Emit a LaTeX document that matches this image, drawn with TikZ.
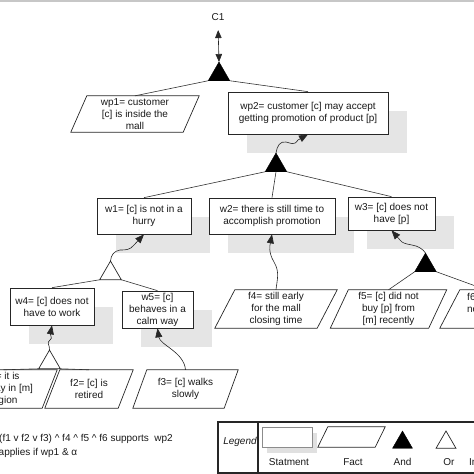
\documentclass[tikz,border=0pt]{standalone}
\usepackage{fontspec}
\setmainfont{Liberation Sans}
\usetikzlibrary{shapes.geometric,arrows.meta,shadows}
\newcommand{\paral}[2]{\draw[factline] ([xshift=#2]#1.north west) -- ([xshift=#2]#1.north east) -- ([xshift=-#2]#1.south east) -- ([xshift=-#2]#1.south west) -- cycle;}
\begin{document}
\begin{tikzpicture}[x=1pt,y=-1pt,
  every node/.style={font=\fontsize{10}{12}\selectfont, text=black!90},
  stmt/.style={draw=black!85, line width=0.7pt, fill=white, inner sep=0pt, align=center,
    general shadow={fill=black!10, shadow xshift=19pt, shadow yshift=-19pt}},
  fact/.style={inner sep=0pt, align=center},
  factline/.style={draw=black!85, line width=0.7pt},
  andg/.style={regular polygon, regular polygon sides=3, minimum size=25pt, inner sep=0pt, outer sep=0pt, fill=black, draw=black, line width=0.4pt},
  org/.style={regular polygon, regular polygon sides=3, minimum size=25pt, inner sep=0pt, outer sep=0pt, fill=white, draw=black!85, line width=0.7pt},
  link/.style={draw=black!80, line width=0.6pt},
  infl/.style={draw=black!85, line width=0.6pt, -{Triangle[length=9pt,width=7pt]}},
  dbl/.style={draw=black!85, line width=0.6pt, {Triangle[length=8pt,width=6.5pt]}-{Triangle[length=8pt,width=6.5pt]}},
  legframe/.style={draw=black!85, line width=1.2pt},
  lstmt/.style={draw=black!45, line width=0.6pt, fill=white, inner sep=0pt,
    general shadow={fill=black!12, shadow xshift=5pt, shadow yshift=-6pt}}
]
\useasboundingbox (0,0) rectangle (474,474);
\clip (0,0) rectangle (474,474);
\fill[black!22] (0,0) rectangle (474,1.8);

% top level
\node (c1) at (218,17) {C1};
\node[fact, minimum width=112pt, minimum height=36pt] (wp1) at (135,114) {wp1= customer\\{}[c] is inside the\\mall};
\paral{wp1}{8pt}
\node[stmt, minimum width=160pt, minimum height=42pt] (wp2) at (308,113) {wp2= customer [c] may accept\\getting promotion of product [p]};
\node[andg] (t0) at (219,74.5) {};

% second level
\node[stmt, minimum width=94pt, minimum height=36pt] (w1) at (144,216) {w1= [c] is not in a\\hurry};
\node[stmt, minimum width=126pt, minimum height=36pt] (w2) at (272,216) {w2= there is still time to\\accomplish promotion};
\node[stmt, minimum width=87pt, minimum height=33pt] (w3) at (391.5,213.5) {w3= [c] does not\\have [p]};
\node[andg] (t1) at (276,165.5) {};

% third level
\node[stmt, minimum width=84pt, minimum height=37pt] (w4) at (52,306.5) {w4= [c] does not\\have to work};
\node[stmt, minimum width=71pt, minimum height=37pt] (w5) at (157.5,309.5) {w5= [c]\\behaves in a\\calm way};
\node[org] (t2) at (110.5,273.5) {};

\node[fact, minimum width=102pt, minimum height=38pt] (f4) at (276,309) {f4= still early\\for the mall\\closing time};
\paral{f4}{10pt}
\node[fact, minimum width=98pt, minimum height=38pt] (f5) at (388.5,309) {f5= [c] did not\\buy [p] from\\{}[m] recently};
\paral{f5}{9pt}
\node[fact, minimum width=72pt, minimum height=38pt] (f6) at (486,309) {f6= [c] is\\not busy\\\mbox{}};
\paral{f6}{10pt}
\node[andg] (t4) at (425.5,265.5) {};

% fourth level
\node[fact, minimum width=92pt, minimum height=38pt] (f1) at (3.5,389) {f1= it is\\holiday in [m]\\region};
\paral{f1}{7.5pt}
\node[fact, minimum width=73pt, minimum height=38pt] (f2) at (89,389) {f2= [c] is\\retired};
\paral{f2}{7.5pt}
\node[fact, minimum width=91pt, minimum height=38pt] (f3) at (185.5,389) {f3= [c] walks\\slowly};
\paral{f3}{7pt}
\node[org] (t3) at (49.5,362.5) {};

% connectors
\draw[dbl, shorten <=6pt] (c1.south) -- (t0.corner 1);
\draw[link] (t0.corner 2) -- (wp1.north);
\draw[link] (t0.corner 3) -- (wp2.north);
\draw[link] (t1.corner 2) -- (w1.north);
\draw[link] (t1.side 2) -- (w2.north);
\draw[link] (t1.corner 3) -- (w3.north);
\draw[link] (t2.corner 2) -- (w4.north);
\draw[link] (t2.corner 3) -- (w5.north);
\draw[link] (t3.corner 2) -- (f1.north);
\draw[link] (t3.corner 3) -- (f2.north);
\draw[link] (t4.corner 2) -- (f5.north);
\draw[link] (t4.corner 3) -- (f6.north);

\draw[infl] (t1.corner 1) .. controls (277,146) and (280,141) .. (286,142) .. controls (291,143) and (294,146) .. (298,140) -- (wp2.south);
\draw[infl] (t2.corner 1) .. controls (111,255) and (114,251) .. (120,250) .. controls (126,250) and (130,250) .. (134,245) -- (w1.south);
\draw[infl] (f4.north) .. controls (277,280) and (280,272) .. (274,262) .. controls (268,252) and (270,245) .. (w2.south);
\draw[infl] (t4.corner 1) .. controls (423,249) and (418,246) .. (412,245) .. controls (406,244) and (402,243) .. (400,240) -- (w3.south);
\draw[infl] (t3.corner 1) .. controls (50,345) and (46,343) .. (50,340) .. controls (53,338) and (50,336) .. (w4.south);
\draw[infl] (f3.north) .. controls (184,352) and (160,345) .. (w5.south);

% formula text
\node[anchor=base west, inner sep=0pt] (fm1) at (-1,441.5) {(f1 v f2 v f3) \textasciicircum{} f4 \textasciicircum{} f5 \textasciicircum{} f6 supports\ \ wp2};
\node[anchor=base west, inner sep=0pt] (fm2) at (-1.5,455.5) {applies if wp1 \& α};

% legend
\draw[legframe] (218,422) rectangle (490,473);
\draw[legframe] (258,422) -- (258,473);
\node[font=\fontsize{10}{12}\selectfont\itshape] (lg) at (240,442) {Legend};
\node[lstmt, minimum width=50pt, minimum height=20pt] (ls) at (287,437) {};
\node[fact, minimum width=57pt, minimum height=20pt] (lf) at (351.5,437) {};
\paral{lf}{5pt}
\node[andg, minimum size=23pt] (la) at (402.5,442.5) {};
\node[org, minimum size=23pt] (lo) at (446,442.5) {};
\node[anchor=base] (lst) at (289,465) {Statment};
\node[anchor=base] (lft) at (353,465) {Fact};
\node[anchor=base] (lat) at (402.5,465) {And};
\node[anchor=base] (lot) at (449,465) {Or};
\node[anchor=base west, inner sep=0pt] (lit) at (469,465) {Influence};
\end{tikzpicture}
\end{document}
